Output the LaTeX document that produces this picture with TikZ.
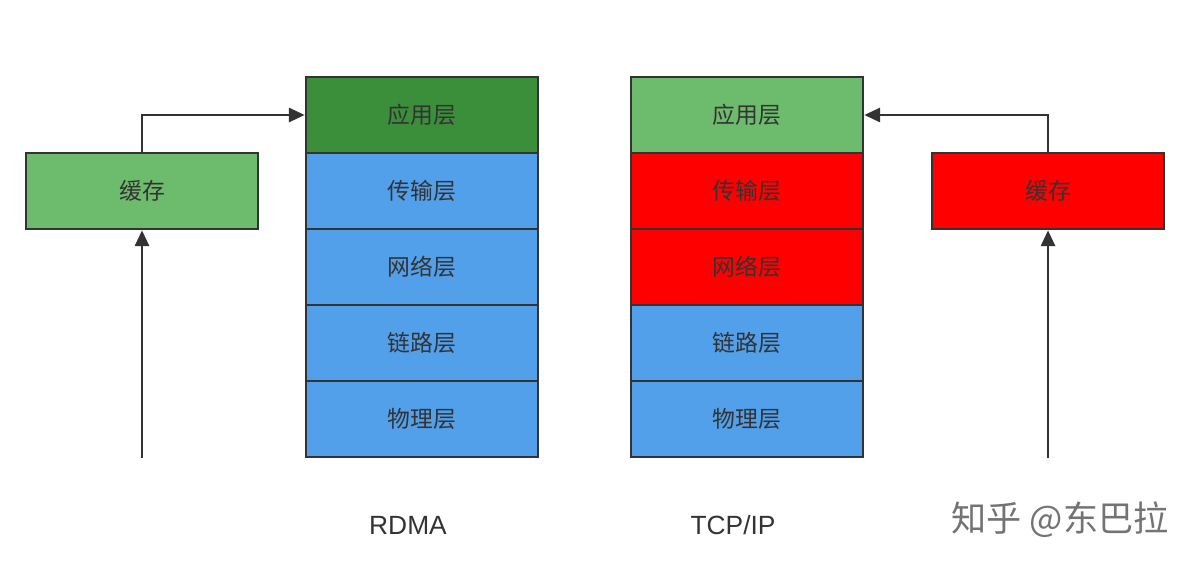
\documentclass[tikz,border=0pt]{standalone}
\usepackage{fontspec}
\setmainfont{Liberation Sans}
\newfontfamily\cjk{Noto Sans CJK SC}
\usetikzlibrary{arrows.meta}
\definecolor{dg}{HTML}{3B8E3A}
\definecolor{lg}{HTML}{6DBC6D}
\definecolor{bl}{HTML}{529FEA}
\definecolor{rd}{HTML}{FE0000}
\definecolor{bd}{HTML}{333333}
\begin{document}
\begin{tikzpicture}[x=0.02cm,y=-0.02cm,
 layer/.style={draw=bd,line width=1.5pt,minimum width=4.64cm,minimum height=1.52cm,inner sep=0pt,font=\cjk\fontsize{13}{13}\selectfont,text=black!80},
 arr/.style={draw=bd,line width=1.5pt,-{Triangle[length=9pt,width=8pt]}}]
\useasboundingbox (0,0) rectangle (1202,570);
\foreach \n/\c [count=\i] in {a/dg,b/bl,c/bl,d/bl,e/bl}{
 \node[layer,fill=\c] (L\n) at (422,{39+76*\i}) {};}
\node at (La) [font=\cjk\fontsize{13}{13}\selectfont,text=black!80] {应用层};
\node at (Lb) [font=\cjk\fontsize{13}{13}\selectfont,text=black!80] {传输层};
\node at (Lc) [font=\cjk\fontsize{13}{13}\selectfont,text=black!80] {网络层};
\node at (Ld) [font=\cjk\fontsize{13}{13}\selectfont,text=black!80] {链路层};
\node at (Le) [font=\cjk\fontsize{13}{13}\selectfont,text=black!80] {物理层};
\node[layer,fill=lg] (Ra) at (747,115) {应用层};
\node[layer,fill=rd] (Rb) at (747,191) {传输层};
\node[layer,fill=rd] (Rc) at (747,267) {网络层};
\node[layer,fill=bl] (Rd) at (747,343) {链路层};
\node[layer,fill=bl] (Re) at (747,419) {物理层};
\node[layer,fill=lg] (cl) at (142,191) {缓存};
\node[layer,fill=rd] (cr) at (1048,191) {缓存};
\coordinate (sl) at (142,458);
\coordinate (sr) at (1048,458);
\draw[arr] (sl) -- (cl.south);
\draw[arr] (sr) -- (cr.south);
\draw[arr] (cl.north) |- (La.west);
\draw[arr] (cr.north) |- (Ra.east);
\node[font=\fontsize{15}{15}\selectfont,text=black!80] (t1) at (408,525) {RDMA};
\node[font=\fontsize{15}{15}\selectfont,text=black!80] (t2) at (733,525) {TCP/IP};
\node[font=\cjk\fontsize{20}{20}\selectfont,text=black!55] (wm) at (1060,520) {知乎 @东巴拉};
\end{tikzpicture}
\end{document}
